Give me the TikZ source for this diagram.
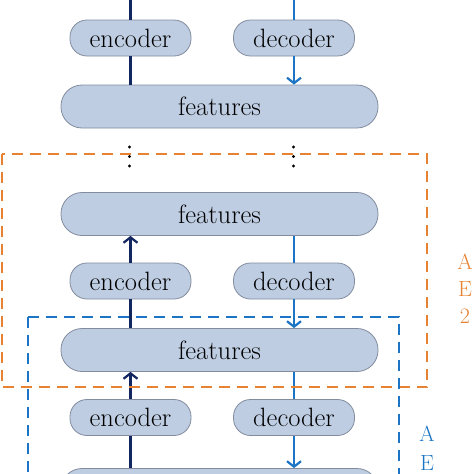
\documentclass[tikz,border=0pt]{standalone}
\usetikzlibrary{arrows.meta}
\definecolor{boxfill}{RGB}{190,205,226}
\definecolor{boxborder}{RGB}{130,140,158}
\definecolor{encblue}{RGB}{18,38,96}
\definecolor{decblue}{RGB}{28,117,196}
\definecolor{aeorange}{RGB}{230,130,50}
\tikzset{
  box/.style={draw=boxborder, fill=boxfill, line width=0.8pt, rounded corners=17pt,
    minimum width=121pt, minimum height=36pt, inner sep=0pt,
    font=\fontsize{26.5}{30}\selectfont},
  feat/.style={box, minimum width=317pt, minimum height=43pt, rounded corners=21pt},
  encline/.style={draw=encblue, line width=2.5pt},
  decline/.style={draw=decblue, line width=2.5pt},
  arr/.style={-{Straight Barb[length=5.5pt,width=14pt,line width=2.2pt]}},
  aebox/.style={line width=2pt, dash pattern=on 11pt off 7pt},
  aelabel/.style={align=center, inner sep=0pt},
  dot/.style={fill=black}
}
\begin{document}
\begin{tikzpicture}[x=1pt,y=-1pt]
\useasboundingbox (0,0) rectangle (474,474);
\clip (0,0) rectangle (474,474);
% nodes
\node[box] (enc1) at (130.5,38) {encoder};
\node[box] (dec1) at (294,38) {decoder};
\node[feat] (feat1) at (219.5,106.5) {features};
\node[feat] (feat2) at (219.5,214) {features};
\node[box] (enc2) at (130.5,281) {encoder};
\node[box] (dec2) at (294,281) {decoder};
\node[feat] (feat3) at (219.5,350) {features};
\node[box] (enc3) at (130.5,417.5) {encoder};
\node[box] (dec3) at (294,417.5) {decoder};
\node[feat] (feat4) at (219.5,490) {};
% free ends at the top
\coordinate (topenc) at (130.5,0);
\coordinate (topdec) at (294,0);
% connectors
\draw[encline] (topenc) -- (enc1.north);
\draw[decline] (topdec) -- (dec1.north);
\draw[encline] (feat1.north -| enc1.south) -- (enc1.south);
\draw[decline,arr] (dec1.south) -- (dec1.south |- feat1.north);
\draw[encline,arr] (enc2.north) -- (enc2.north |- feat2.south);
\draw[decline] (dec2.north |- feat2.south) -- (dec2.north);
\draw[encline] (feat3.north -| enc2.south) -- (enc2.south);
\draw[decline,arr] (dec2.south) -- (dec2.south |- feat3.north);
\draw[encline,arr] (enc3.north) -- (enc3.north |- feat3.south);
\draw[decline] (dec3.north |- feat3.south) -- (dec3.north);
\draw[encline] (feat4.north -| enc3.south) -- (enc3.south);
\draw[decline,arr] (dec3.south) -- (dec3.south |- feat4.north);
% ellipsis dots
\foreach \x in {129.5,293.5}{
  \foreach \y in {147,156.5,166}{
    \fill[dot] (\x,\y) circle (1.6pt);
  }
}
% AE2 (orange) box
\draw[aebox, draw=aeorange] (2,153.5) rectangle (427,387);
\node[aelabel, text=aeorange, font=\fontsize{22}{27}\selectfont] (ae2) at (465,289) {A\\E\\2};
% AE1 (blue) box
\draw[aebox, draw=decblue] (28,317) -- (399,317) -- (399,480);
\draw[aebox, draw=decblue] (28,317) -- (28,480);
\node[aelabel, text=decblue, font=\fontsize{22}{29}\selectfont] (ae1) at (427,448) {A\\E};
\end{tikzpicture}
\end{document}
